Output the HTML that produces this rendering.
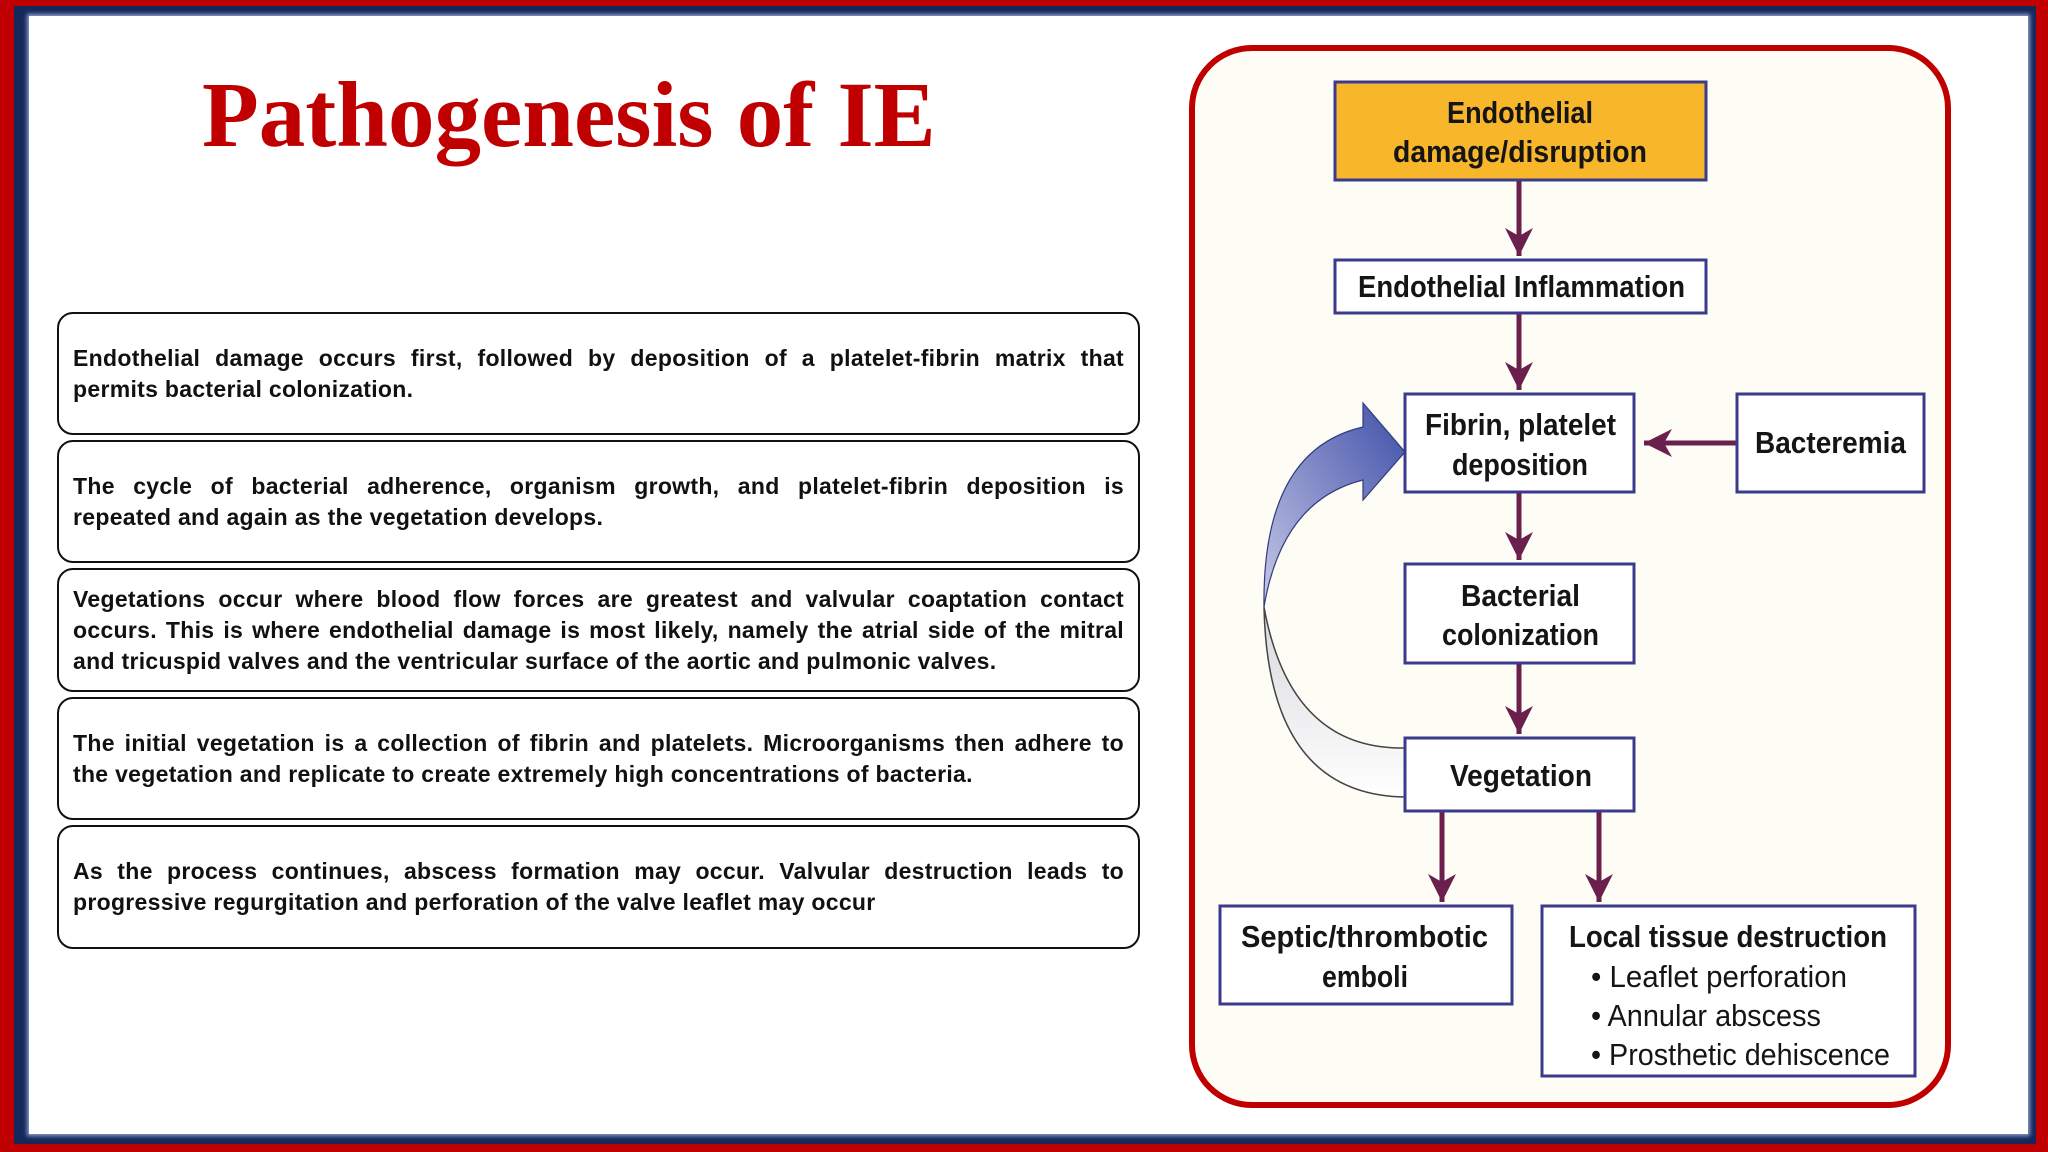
<!DOCTYPE html>
<html><head><meta charset="utf-8"><style>
html,body{margin:0;padding:0}
body{width:2048px;height:1152px;position:relative;overflow:hidden;background:#c00000;font-family:"Liberation Sans",sans-serif}
#navy{position:absolute;left:14px;top:6px;right:12px;bottom:8px;background:#15285c}
#white{position:absolute;left:29px;top:16px;right:20px;bottom:18px;background:#fff;box-shadow:0 0 4px 2px #8fa0c8}
h1{position:absolute;left:202px;top:62px;margin:0;font:bold 93px "Liberation Serif",serif;color:#c00000;white-space:nowrap}
.box{position:absolute;left:57px;width:1083px;border:2.5px solid #111;border-radius:16px;box-sizing:border-box;padding:0 14px;display:flex;flex-direction:column;justify-content:center;font-weight:bold;font-size:23px;line-height:31px;color:#111;letter-spacing:0.3px}
.box div{width:100%;white-space:nowrap}
.box div.j{text-align:justify;text-align-last:justify}
</style></head><body>
<div id="navy"></div><div id="white"></div>
<h1>Pathogenesis of IE</h1>
<div class="box" style="top:312px;height:123px"><div class="j">Endothelial damage occurs first, followed by deposition of a platelet-fibrin matrix that</div><div>permits bacterial colonization.</div></div>
<div class="box" style="top:440px;height:123px"><div class="j">The cycle of bacterial adherence, organism growth, and platelet-fibrin deposition is</div><div>repeated and again as the vegetation develops.</div></div>
<div class="box" style="top:568px;height:124px"><div class="j">Vegetations occur where blood flow forces are greatest and valvular coaptation contact</div><div class="j">occurs. This is where endothelial damage is most likely, namely the atrial side of the mitral</div><div>and tricuspid valves and the ventricular surface of the aortic and pulmonic valves.</div></div>
<div class="box" style="top:697px;height:123px"><div class="j">The initial vegetation is a collection of fibrin and platelets. Microorganisms then adhere to</div><div>the vegetation and replicate to create extremely high concentrations of bacteria.</div></div>
<div class="box" style="top:825px;height:124px"><div class="j">As the process continues, abscess formation may occur. Valvular destruction leads to</div><div>progressive regurgitation and perforation of the valve leaflet may occur</div></div>

<svg style="position:absolute;left:0;top:0" width="2048" height="1152">
<defs>
<linearGradient id="bl" x1="0" y1="1" x2="1" y2="0"><stop offset="0" stop-color="#c6c8e6"/><stop offset="1" stop-color="#3f4fa8"/></linearGradient>
<linearGradient id="gr" x1="0" y1="0" x2="0" y2="1"><stop offset="0" stop-color="#d8d8de"/><stop offset="1" stop-color="#ffffff"/></linearGradient>
<marker id="ah" markerWidth="28" markerHeight="28" refX="28" refY="14" orient="auto" markerUnits="userSpaceOnUse" viewBox="0 0 28 28"><path d="M0,0 L28,14 L0,28 L8,14 Z" fill="#6b1f4d"/></marker>
</defs>
<rect x="1192" y="48" width="756" height="1057" rx="60" fill="#fdfcf5" stroke="#c00000" stroke-width="6"/>
<path d="M1405,797 Q1268,795 1264,607 Q1290,750 1405,748 Z" fill="url(#gr)" stroke="#444" stroke-width="1.5"/>
<path d="M1264,607 Q1262,450 1363,427 L1363,403 L1405,452 L1363,500 L1363,480 Q1282,500 1264,607 Z" fill="url(#bl)" stroke="#333a80" stroke-width="1.2"/>
<g stroke="#6b1f4d" stroke-width="5" fill="none">
<line x1="1519" y1="180" x2="1519" y2="256" marker-end="url(#ah)"/>
<line x1="1519" y1="313" x2="1519" y2="390" marker-end="url(#ah)"/>
<line x1="1519" y1="492" x2="1519" y2="560" marker-end="url(#ah)"/>
<line x1="1519" y1="663" x2="1519" y2="734" marker-end="url(#ah)"/>
<line x1="1737" y1="443" x2="1644" y2="443" marker-end="url(#ah)"/>
<line x1="1442" y1="811" x2="1442" y2="902" marker-end="url(#ah)"/>
<line x1="1599" y1="811" x2="1599" y2="902" marker-end="url(#ah)"/>
</g>
<g stroke="#3c3a8c" stroke-width="3">
<rect x="1335" y="82" width="371" height="98" fill="#f8b62a"/>
<rect x="1335" y="260" width="371" height="53" fill="#fff"/>
<rect x="1405" y="394" width="229" height="98" fill="#fff"/>
<rect x="1737" y="394" width="187" height="98" fill="#fff"/>
<rect x="1405" y="564" width="229" height="99" fill="#fff"/>
<rect x="1405" y="738" width="229" height="73" fill="#fff"/>
<rect x="1220" y="906" width="292" height="98" fill="#fff"/>
<rect x="1542" y="906" width="373" height="170" fill="#fff"/>
</g>
<g font-family="'Liberation Sans',sans-serif" font-weight="bold" font-size="31" fill="#151515">
<text x="1447" y="123" textLength="146" lengthAdjust="spacingAndGlyphs">Endothelial</text>
<text x="1393" y="162" textLength="254" lengthAdjust="spacingAndGlyphs">damage/disruption</text>
<text x="1358" y="297" textLength="327" lengthAdjust="spacingAndGlyphs">Endothelial Inflammation</text>
<text x="1425" y="435" textLength="191" lengthAdjust="spacingAndGlyphs">Fibrin, platelet</text>
<text x="1452" y="475" textLength="136" lengthAdjust="spacingAndGlyphs">deposition</text>
<text x="1755" y="453" textLength="151" lengthAdjust="spacingAndGlyphs">Bacteremia</text>
<text x="1461" y="606" textLength="119" lengthAdjust="spacingAndGlyphs">Bacterial</text>
<text x="1442" y="645" textLength="157" lengthAdjust="spacingAndGlyphs">colonization</text>
<text x="1450" y="786" textLength="142" lengthAdjust="spacingAndGlyphs">Vegetation</text>
<text x="1241" y="947" textLength="247" lengthAdjust="spacingAndGlyphs">Septic/thrombotic</text>
<text x="1322" y="987" textLength="86" lengthAdjust="spacingAndGlyphs">emboli</text>
<text x="1569" y="947" textLength="318" lengthAdjust="spacingAndGlyphs">Local tissue destruction</text>
</g>
<g font-family="'Liberation Sans',sans-serif" font-size="31" fill="#151515">
<text x="1591" y="987" textLength="256" lengthAdjust="spacingAndGlyphs">• Leaflet perforation</text>
<text x="1591" y="1026" textLength="230" lengthAdjust="spacingAndGlyphs">• Annular abscess</text>
<text x="1591" y="1065" textLength="299" lengthAdjust="spacingAndGlyphs">• Prosthetic dehiscence</text>
</g>
</svg>
</body></html>
